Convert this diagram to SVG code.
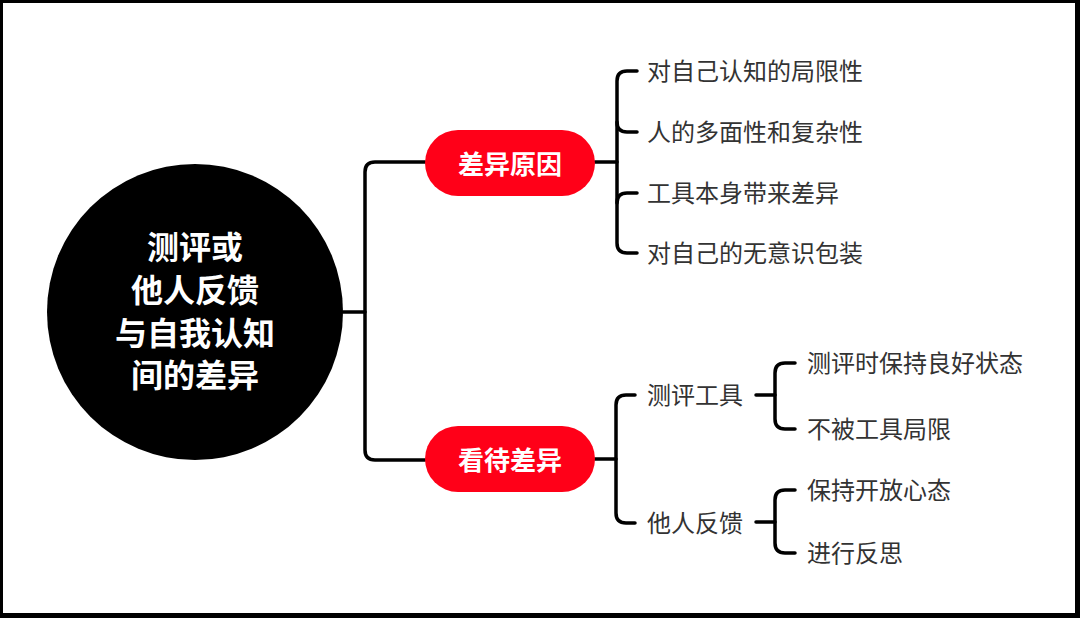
<svg xmlns="http://www.w3.org/2000/svg" width="1080" height="618" viewBox="0 0 1080 618">
<style>
.ln{fill:none;stroke:#000;stroke-width:3.5;stroke-linecap:round;stroke-linejoin:round}
.ct{font-family:"Noto Sans CJK SC","Noto Sans",sans-serif;font-weight:bold;fill:#fff;text-anchor:middle;dominant-baseline:central}
.lb{font-family:"Noto Sans CJK SC","Noto Sans",sans-serif;font-size:24px;fill:#333;dominant-baseline:central}
</style>
<rect x="0" y="0" width="1080" height="618" fill="#000"/>
<rect x="3" y="3" width="1072" height="610" fill="#fff"/>
<g id="connectors">
<path class="ln" d="M343 312 H365"/>
<path class="ln" d="M425 162 H375 Q365 162 365 172 V450 Q365 460 375 460 H425"/>
<path class="ln" d="M595 162 H617"/>
<path class="ln" d="M637 71 H627 Q617 71 617 81 V243 Q617 253 627 253 H637"/>
<path class="ln" d="M617 122 Q617 132 627 132 H637"/>
<path class="ln" d="M617 203 Q617 193 627 193 H637"/>
<path class="ln" d="M595 459 H616"/>
<path class="ln" d="M635 395 H626 Q616 395 616 405 V513 Q616 523 626 523 H635"/>
<path class="ln" d="M756 395 H775"/>
<path class="ln" d="M795 363 H785 Q775 363 775 373 V419 Q775 429 785 429 H795"/>
<path class="ln" d="M756 522 H775"/>
<path class="ln" d="M795 490 H785 Q775 490 775 500 V543 Q775 553 785 553 H795"/>
</g>
<g id="center">
<circle cx="195" cy="312" r="148" fill="#000"/>
<text class="ct" x="195" y="245" font-size="32">测评或</text>
<text class="ct" x="195" y="288" font-size="32">他人反馈</text>
<text class="ct" x="195" y="331" font-size="32">与自我认知</text>
<text class="ct" x="195" y="373" font-size="32">间的差异</text>
</g>
<g id="reason">
<rect x="425" y="130" width="170" height="66" rx="33" fill="#ff0018"/>
<text class="ct" x="510" y="162" font-size="26">差异原因</text>
</g>
<g id="view">
<rect x="425" y="426" width="170" height="66" rx="33" fill="#ff0018"/>
<text class="ct" x="510" y="458" font-size="26">看待差异</text>
</g>
<g id="r1"><text class="lb" x="647" y="69">对自己认知的局限性</text></g>
<g id="r2"><text class="lb" x="647" y="130">人的多面性和复杂性</text></g>
<g id="r3"><text class="lb" x="647" y="191">工具本身带来差异</text></g>
<g id="r4"><text class="lb" x="647" y="251">对自己的无意识包装</text></g>
<g id="v1"><text class="lb" x="647" y="393">测评工具</text></g>
<g id="v2"><text class="lb" x="647" y="521">他人反馈</text></g>
<g id="v11"><text class="lb" x="807" y="361">测评时保持良好状态</text></g>
<g id="v12"><text class="lb" x="807" y="427">不被工具局限</text></g>
<g id="v21"><text class="lb" x="807" y="488">保持开放心态</text></g>
<g id="v22"><text class="lb" x="807" y="551">进行反思</text></g>
</svg>
